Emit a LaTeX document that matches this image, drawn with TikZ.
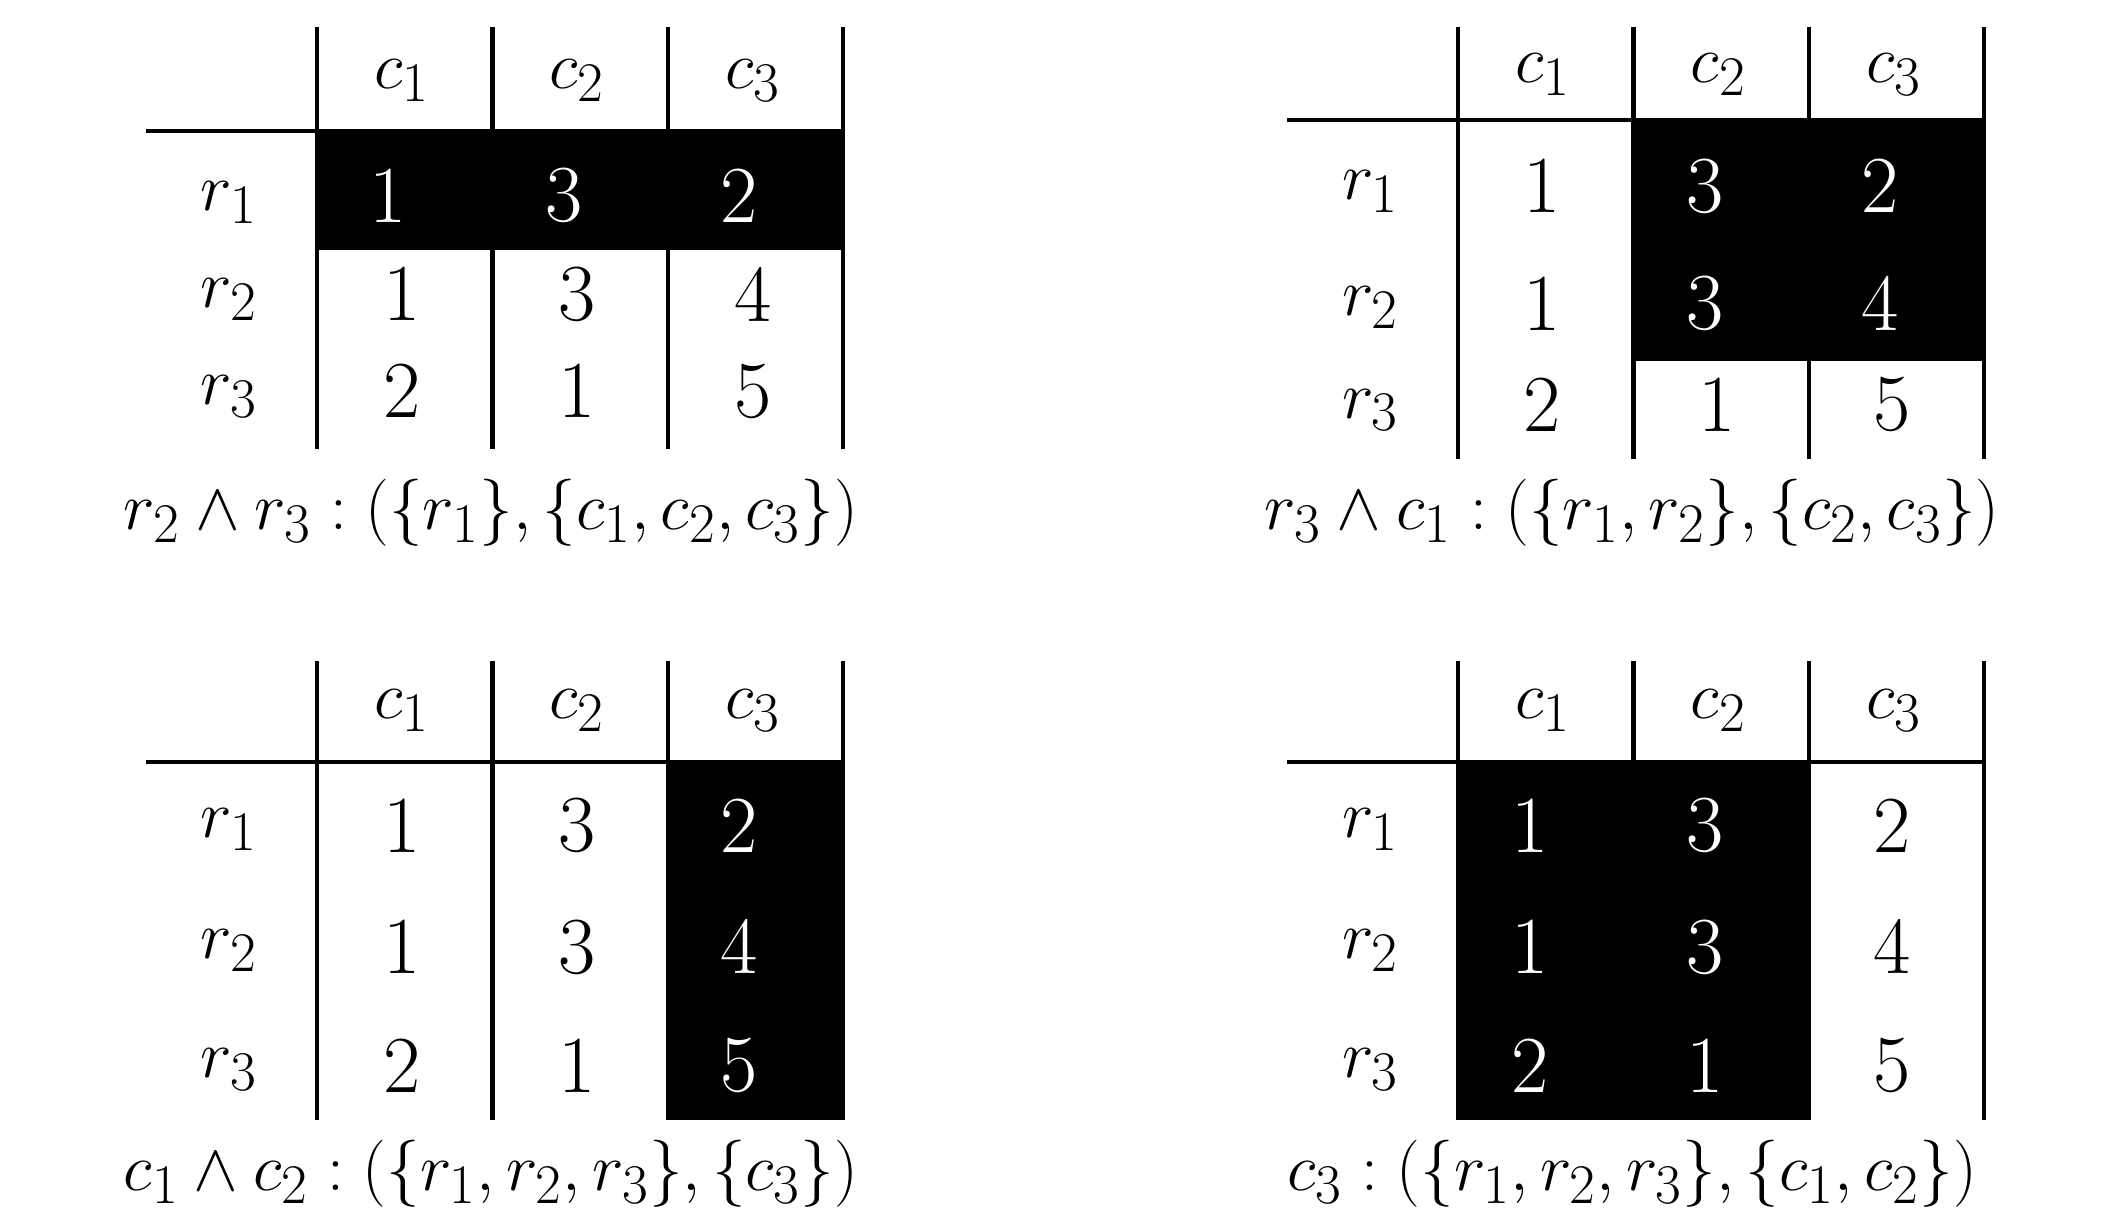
\documentclass[tikz,border=0pt]{standalone}
\begin{document}
\begin{tikzpicture}[x=0.5pt,y=-0.5pt,
  txt/.style={font=\fontsize{30}{34}\selectfont,inner sep=0pt},
  wtxt/.style={txt,text=white},
  rule/.style={line width=1.6pt}]
\useasboundingbox (0,0) rectangle (1565,913);
% ---- generic table macro: #1 x-offset, #2 y0 top, #3 hline y, #4 bottom, #5 header y, #6,#7,#8 row y, #9 name
\newcommand\mytab[9]{%
  \begin{scope}[xshift=#1*0.5pt]
  \draw[rule] (235,#2)--(235,#4) (365,#2)--(365,#4) (495,#2)--(495,#4) (625,#2)--(625,#4);
  \draw[rule] (108,#3)--(625,#3);
  \node[txt] (#9h1) at (298,#5) {$c_1$};
  \node[txt] (#9h2) at (428,#5) {$c_2$};
  \node[txt] (#9h3) at (558,#5) {$c_3$};
  \node[txt] (#9r1) at (170,#6) {$r_1$};
  \node[txt] (#9r2) at (170,#7) {$r_2$};
  \node[txt] (#9r3) at (170,#8) {$r_3$};
  \end{scope}}
% black fills first
\fill (235,97) rectangle (625,185);
\fill (1210,89) rectangle (1469,268);
\fill (495,565) rectangle (625,830);
\fill (1081,565) rectangle (1340,830);
\mytab{0}{20}{97}{333}{60}{150}{222}{294}{a}
\mytab{846}{20}{89}{340}{55}{142}{228}{304}{b}
\mytab{0}{490}{565}{830}{527}{615}{705}{793}{c}
\mytab{846}{490}{565}{830}{527}{615}{705}{793}{d}
% table a cells
\node[wtxt] (a11) at (288,145) {1};\node[wtxt] (a12) at (418,145) {3};\node[wtxt] (a13) at (548,145) {2};
\node[txt] (a21) at (298,218) {1};\node[txt] (a22) at (428,218) {3};\node[txt] (a23) at (558,218) {4};
\node[txt] (a31) at (298,290) {2};\node[txt] (a32) at (428,290) {1};\node[txt] (a33) at (558,290) {5};
% table b
\node[txt] (b11) at (1143,138) {1};\node[wtxt] (b12) at (1264,138) {3};\node[wtxt] (b13) at (1394,138) {2};
\node[txt] (b21) at (1143,225) {1};\node[wtxt] (b22) at (1264,225) {3};\node[wtxt] (b23) at (1394,225) {4};
\node[txt] (b31) at (1143,300) {2};\node[txt] (b32) at (1273,300) {1};\node[txt] (b33) at (1403,300) {5};
% table c
\node[txt] (c11) at (298,612) {1};\node[txt] (c12) at (428,612) {3};\node[wtxt] (c13) at (548,612) {2};
\node[txt] (c21) at (298,702) {1};\node[txt] (c22) at (428,702) {3};\node[wtxt] (c23) at (548,702) {4};
\node[txt] (c31) at (298,790) {2};\node[txt] (c32) at (428,790) {1};\node[wtxt] (c33) at (548,790) {5};
% table d
\node[wtxt] (d11) at (1134,612) {1};\node[wtxt] (d12) at (1264,612) {3};\node[txt] (d13) at (1403,612) {2};
\node[wtxt] (d21) at (1134,702) {1};\node[wtxt] (d22) at (1264,702) {3};\node[txt] (d23) at (1403,702) {4};
\node[wtxt] (d31) at (1134,790) {2};\node[wtxt] (d32) at (1264,790) {1};\node[txt] (d33) at (1403,790) {5};
% captions
\node[txt] (capa) at (364,380) {$r_2\wedge r_3:(\{r_1\},\{c_1,c_2,c_3\})$};
\node[txt] (capb) at (1210,380) {$r_3\wedge c_1:(\{r_1,r_2\},\{c_2,c_3\})$};
\node[txt] (capc) at (364,870) {$c_1\wedge c_2:(\{r_1,r_2,r_3\},\{c_3\})$};
\node[txt] (capd) at (1210,870) {$c_3:(\{r_1,r_2,r_3\},\{c_1,c_2\})$};
\end{tikzpicture}
\end{document}
